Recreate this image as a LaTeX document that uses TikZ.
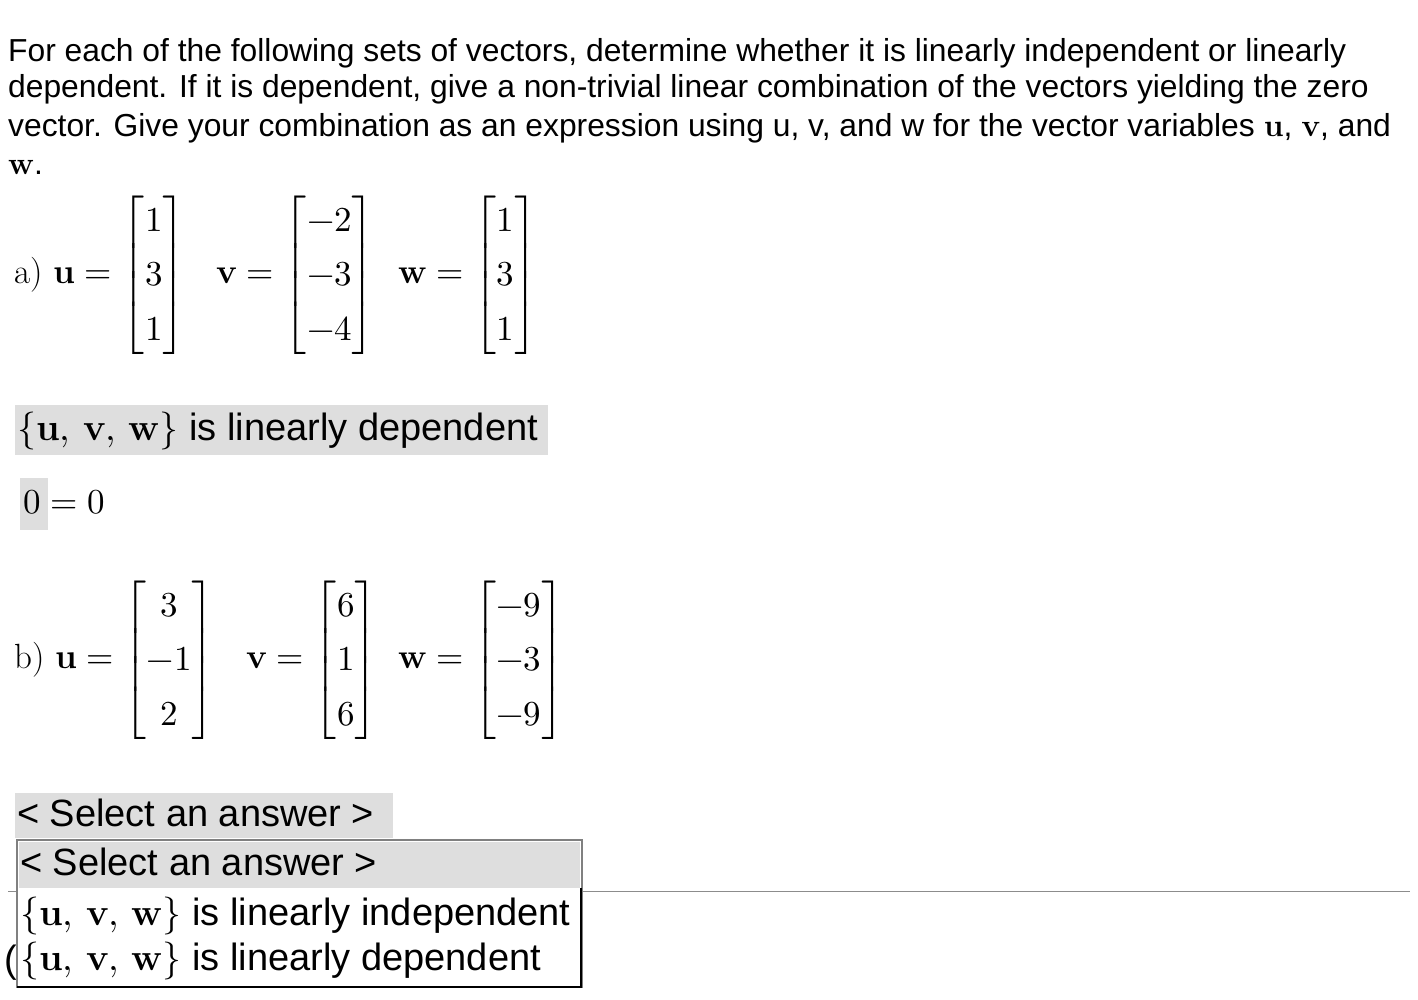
\documentclass[tikz,border=0pt]{standalone}
\usepackage{amsmath}
\usepackage{fontspec}
\usepackage{unicode-math}
\setmathfont{Latin Modern Math}
\setsansfont{Liberation Sans}
\renewcommand{\arraystretch}{1.3}
\begin{document}
\begin{tikzpicture}[x=1pt,y=-1pt,
  txt/.style={anchor=base west,inner sep=0pt,font=\fontsize{31.8}{36}\selectfont\sffamily},
  big/.style={anchor=base west,inner sep=0pt,font=\fontsize{38}{46}\selectfont\sffamily},
  mat/.style={anchor=west,inner sep=0pt,font=\fontsize{35}{42}\selectfont}]
\useasboundingbox (0,0) rectangle (1418,1000);
\fill[white] (0,0) rectangle (1418,1000);
\node[txt] (l1) at (8,62) {For each of the following sets of vectors, determine whether it is linearly independent or linearly};
\node[txt] (l2) at (8,98) {dependent. If it is dependent, give a non-trivial linear combination of the vectors yielding the zero};
\node[txt] (l3) at (8,137) {vector. Give your combination as an expression using u, v, and w for the vector variables $\mathbf{u}$, $\mathbf{v}$, and};
\node[txt] (l4) at (8,175) {$\mathbf{w}$.};
% a)
\node[mat] (au) at (14,275) {a) $\mathbf{u}=\begin{bmatrix}1\\3\\1\end{bmatrix}$};
\node[mat] (av) at (216,275) {$\mathbf{v}=\begin{bmatrix}-2\\-3\\-4\end{bmatrix}$};
\node[mat] (aw) at (398,275) {$\mathbf{w}=\begin{bmatrix}1\\3\\1\end{bmatrix}$};
\fill[black!13] (15,405) rectangle (548,455);
\node[big] (ad) at (17,440) {$\{\mathbf{u},\,\mathbf{v},\,\mathbf{w}\}$ is linearly dependent};
\fill[black!13] (20,478) rectangle (48,530);
\node[mat,anchor=base west] (z) at (23,513) {$0=0$};
% b)
\node[mat] (bu) at (14,660) {b) $\mathbf{u}=\begin{bmatrix}3\\-1\\2\end{bmatrix}$};
\node[mat] (bv) at (246,660) {$\mathbf{v}=\begin{bmatrix}6\\1\\6\end{bmatrix}$};
\node[mat] (bw) at (398,660) {$\mathbf{w}=\begin{bmatrix}-9\\-3\\-9\end{bmatrix}$};
\fill[black!13] (15,793) rectangle (393,838);
\node[big] (sel) at (17,826) {< Select an answer >};
\draw[black!45,line width=1pt] (8,891) -- (1410,891);
\node[big] (paren) at (4,972) {(};
\fill[white] (17,840) rectangle (582,987);
\fill[black!13] (19,842) rectangle (580,888);
\draw[black!50,line width=2.5pt] (17,840) rectangle (582,987);
\draw[black,line width=2pt] (581,888) -- (581,987) -- (17,987);
\node[big] (o1) at (20,875) {< Select an answer >};
\node[big] (o2) at (20,925) {$\{\mathbf{u},\,\mathbf{v},\,\mathbf{w}\}$ is linearly independent};
\node[big] (o3) at (20,970) {$\{\mathbf{u},\,\mathbf{v},\,\mathbf{w}\}$ is linearly dependent};
\end{tikzpicture}
\end{document}
